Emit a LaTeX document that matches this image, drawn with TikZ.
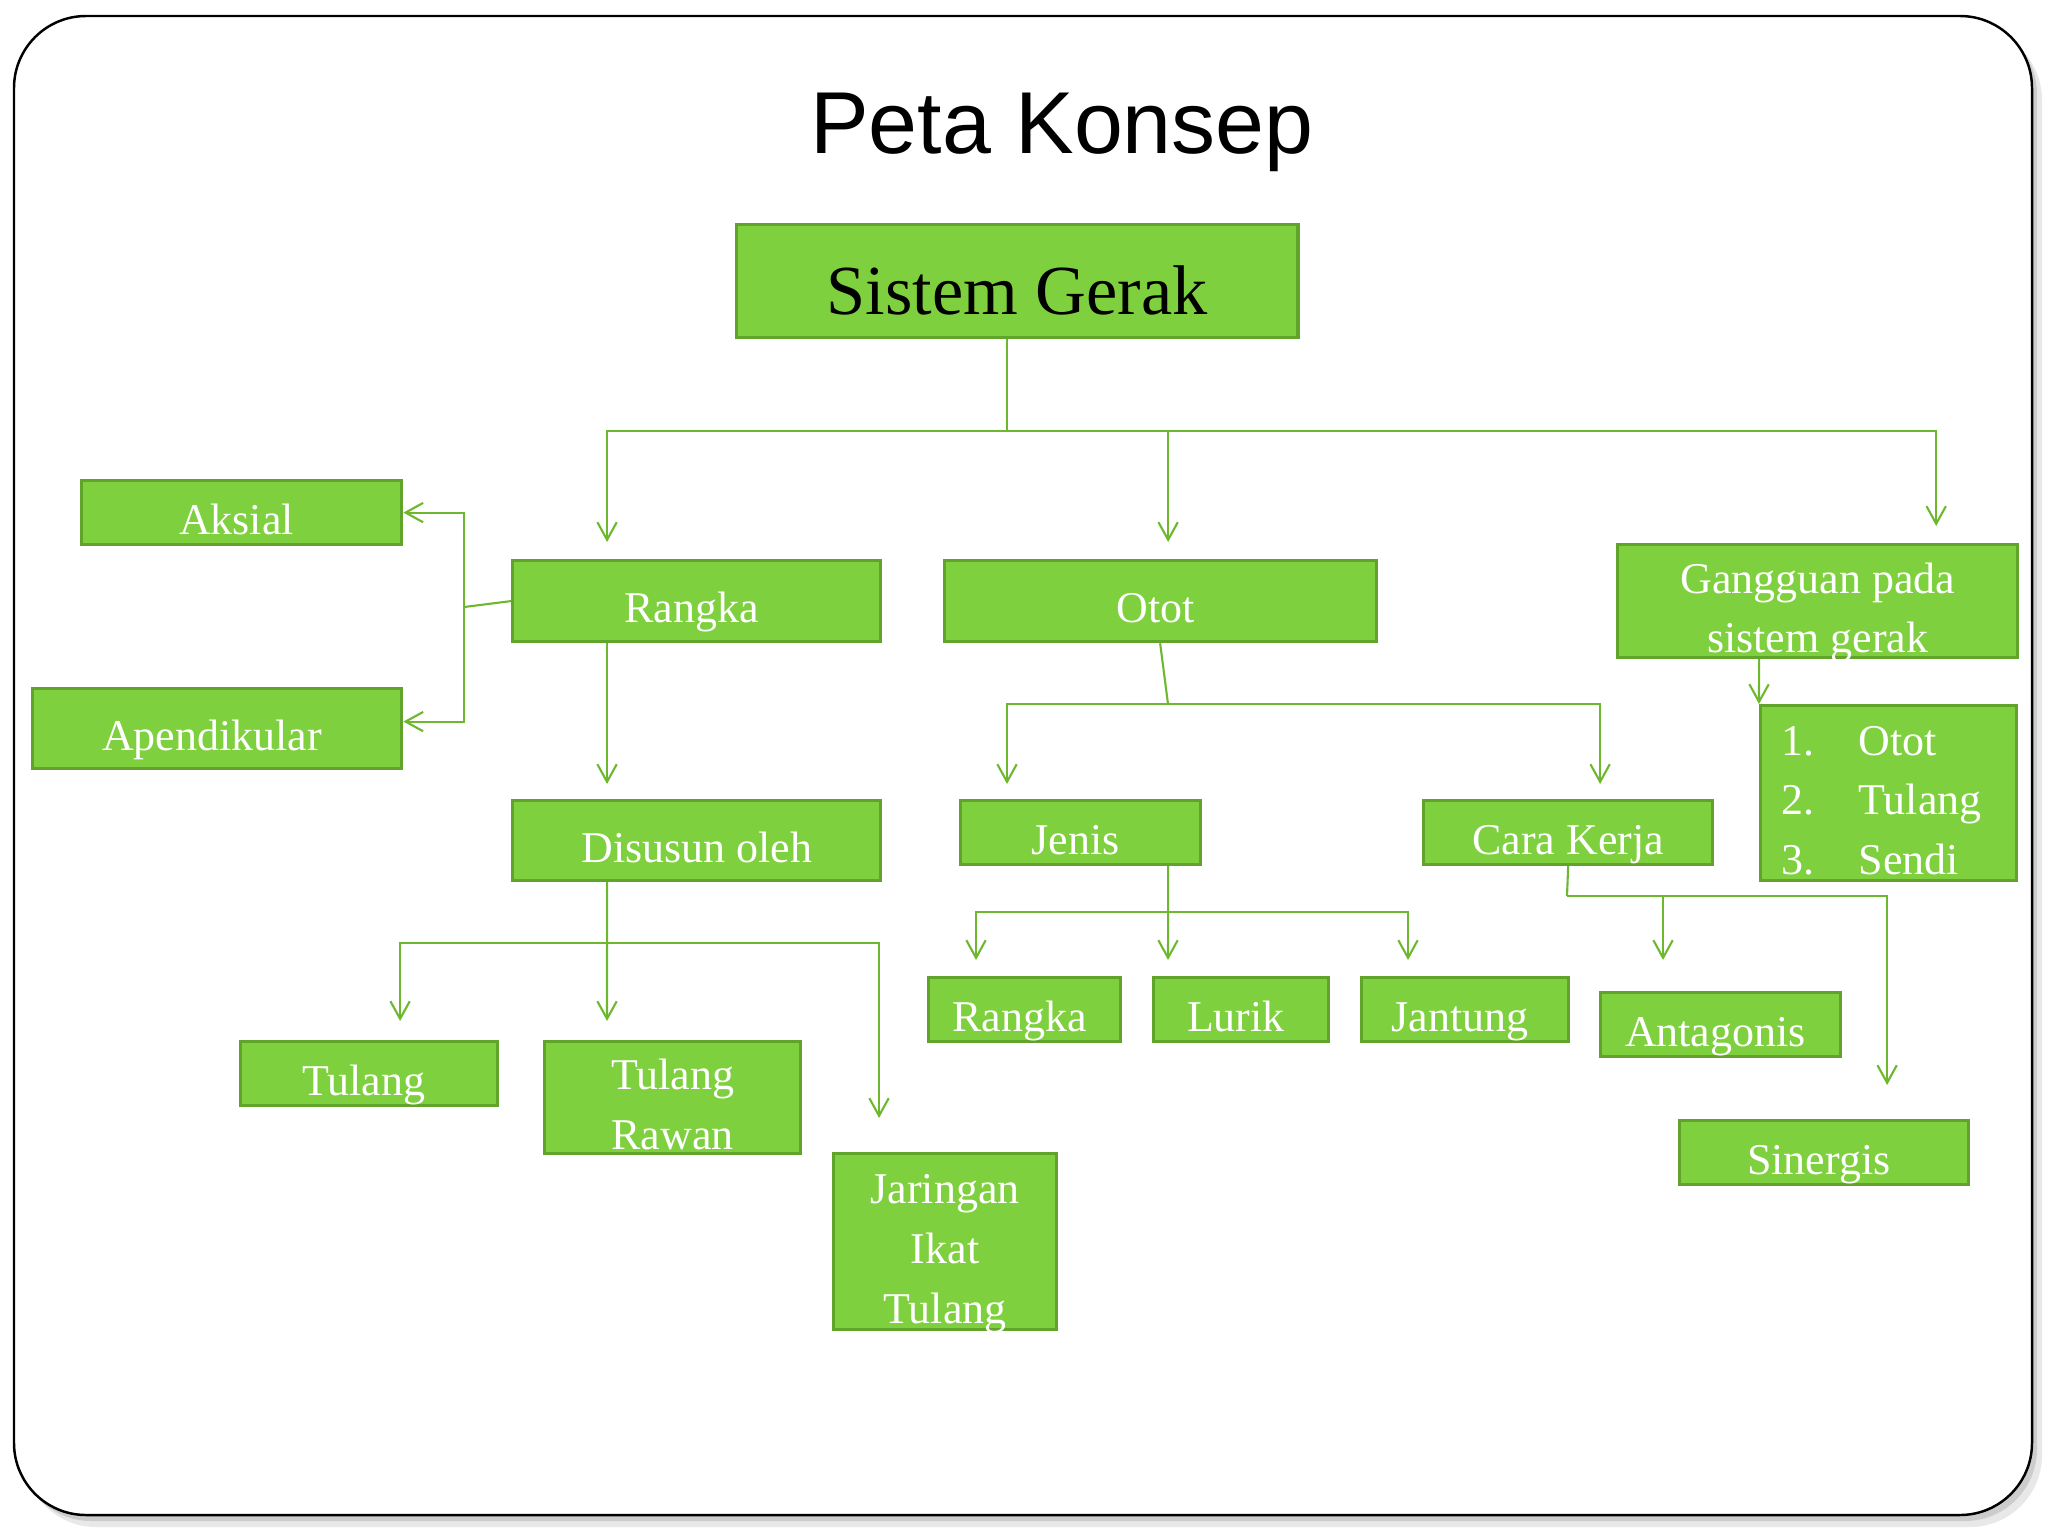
\documentclass[tikz,border=0pt]{standalone}
\usepackage{fontspec}
\setmainfont{Liberation Serif}
\newfontfamily\titlefont{Liberation Sans}
\usetikzlibrary{arrows.meta,positioning}
\definecolor{boxfill}{RGB}{127,208,62}
\definecolor{boxline}{RGB}{96,164,44}
\definecolor{linkgreen}{RGB}{110,184,48}
\newcommand{\boxfont}{\fontsize{12.5}{17}\selectfont}

\begin{document}
\begin{tikzpicture}[x=0.01cm, y=-0.01cm]
  \tikzset{box/.style={draw=boxline,fill=boxfill,line width=0.9pt,inner sep=0pt,anchor=north west,text=white,font=\boxfont},
    single/.style={box,text height=12.4pt,text depth=0pt},
    nudged/.style={single,execute at end node={\hspace{3pt}}},
    twoline/.style={box,text height=0pt,text depth=4.6pt},
    threeline/.style={box,text height=0pt,text depth=21.6pt},
    link/.style={draw=linkgreen,line width=0.6pt},
    arr/.style={link,-{Straight Barb[length=5pt,width=5.5pt]}}}
  \useasboundingbox (0,0) rectangle (2048,1536);
  \fill[gray!18, rounded corners=0.72cm] (24,28) rectangle (2042,1527);
  \fill[gray!40, rounded corners=0.72cm] (19,22) rectangle (2037,1521);
  \draw[line width=0.7pt, fill=white, rounded corners=0.72cm] (14,16) rectangle (2032,1515);

  \node[font=\titlefont\fontsize{25}{30}\selectfont, anchor=base] (title) at (1062,153) {Peta Konsep};
  \node[box, text=black, font=\fontsize{20}{24}\selectfont, text height=18.8pt, text depth=0pt, minimum width=5.61cm, minimum height=1.13cm] (sg) at (735,223) {Sistem Gerak};

  \node[nudged, minimum width=3.68cm, minimum height=0.81cm] (rangka) at (511,559) {Rangka};
  \node[nudged, minimum width=4.32cm, minimum height=0.81cm] (otot) at (943,559) {Otot};
  \node[twoline, minimum width=4.00cm, minimum height=1.13cm] (gangguan) at (1616,543) {\begin{tabular}[t]{@{}c@{}}Gangguan pada\\sistem gerak\end{tabular}};
  \node[nudged, minimum width=3.20cm, minimum height=0.64cm] (aksial) at (80,479) {Aksial};
  \node[nudged, minimum width=3.69cm, minimum height=0.80cm] (apendikular) at (31,687) {Apendikular};
  \node[single, minimum width=3.68cm, minimum height=0.80cm] (disusun) at (511,799) {Disusun oleh};
  \node[nudged, minimum width=2.57cm, minimum height=0.64cm] (tulang) at (239,1040) {Tulang};
  \node[twoline, minimum width=2.56cm, minimum height=1.12cm] (rawan) at (543,1040) {\begin{tabular}[t]{@{}c@{}}Tulang\\Rawan\end{tabular}};
  \node[threeline, minimum width=2.23cm, minimum height=1.76cm] (jaringan) at (832,1152) {\begin{tabular}[t]{@{}c@{}}Jaringan\\Ikat\\Tulang\end{tabular}};
  \node[nudged, minimum width=2.40cm, minimum height=0.64cm] (jenis) at (959,799) {Jenis};
  \node[single, minimum width=2.89cm, minimum height=0.64cm] (carakerja) at (1422,799) {Cara Kerja};
  \node[nudged, minimum width=1.92cm, minimum height=0.64cm] (rangkaotot) at (927,976) {Rangka};
  \node[nudged, minimum width=1.75cm, minimum height=0.64cm] (lurik) at (1152,976) {Lurik};
  \node[nudged, minimum width=2.07cm, minimum height=0.64cm] (jantung) at (1360,976) {Jantung};
  \node[nudged, minimum width=2.40cm, minimum height=0.64cm] (antagonis) at (1599,991) {Antagonis};
  \node[nudged, minimum width=2.89cm, minimum height=0.64cm] (sinergis) at (1678,1119) {Sinergis};
  \node[threeline, minimum width=2.56cm, minimum height=1.75cm] (daftar) at (1759,704) {\begin{tabular}[t]{@{}l@{\hspace{4pt}}}\makebox[21.9pt][l]{1.}Otot\\\makebox[21.9pt][l]{2.}Tulang\\\makebox[21.9pt][l]{3.}Sendi\end{tabular}};

  \coordinate (busA) at (1007,431);
  \draw[link] (busA |- sg.south) -- (busA);
  \draw[arr, shorten >=0.17cm] (busA) -| ([xshift=0.96cm]rangka.north west);
  \draw[arr, shorten >=0.17cm] (busA) -| ([xshift=2.25cm]otot.north west);
  \draw[arr, shorten >=0.17cm] (busA) -| ([xshift=3.20cm]gangguan.north west);

  \coordinate (jR) at (464,607);
  \draw[link] (rangka.west) -- (jR);
  \draw[arr] (jR) |- (aksial.east); \draw[arr] (jR) |- ([yshift=0.07cm]apendikular.east);
  \draw[arr, shorten >=0.15cm] ([xshift=0.96cm]rangka.south west) -- ([xshift=0.96cm]disusun.north west);

  \coordinate (busD) at (607,943);
  \draw[arr, shorten >=0.19cm] ([xshift=0.96cm]disusun.south west) -- ([xshift=0.64cm]rawan.north west);
  \draw[arr, shorten >=0.19cm] (busD) -| ([xshift=1.61cm]tulang.north west);
  \draw[arr, shorten >=0.34cm] (busD) -| ([xshift=0.47cm]jaringan.north west);

  \coordinate (busO) at (1168,704);
  \draw[link] ([xshift=2.17cm]otot.south west) -- (busO);
  \draw[arr, shorten >=0.15cm] (busO) -| ([xshift=0.48cm]jenis.north west);
  \draw[arr, shorten >=0.15cm] (busO) -| ([xshift=1.78cm]carakerja.north west);

  \coordinate (busJ) at (1168,912);
  \draw[arr, shorten >=0.16cm] ([xshift=2.09cm]jenis.south west) -- ([xshift=0.16cm]lurik.north west);
  \draw[arr, shorten >=0.16cm] (busJ) -| ([xshift=0.49cm]rangkaotot.north west);
  \draw[arr, shorten >=0.16cm] (busJ) -| ([xshift=0.48cm]jantung.north west);

  \coordinate (busC) at (1567,896);
  \draw[link] (carakerja.south) -- (busC);
  \draw[arr, shorten >=0.31cm] (busC) -| ([xshift=0.64cm]antagonis.north west);
  \draw[arr, shorten >=0.34cm] (busC) -| ([xshift=2.09cm]sinergis.north west);

  \draw[arr] ([xshift=1.43cm]gangguan.south west) -- (daftar.north west);
\end{tikzpicture}
\end{document}
